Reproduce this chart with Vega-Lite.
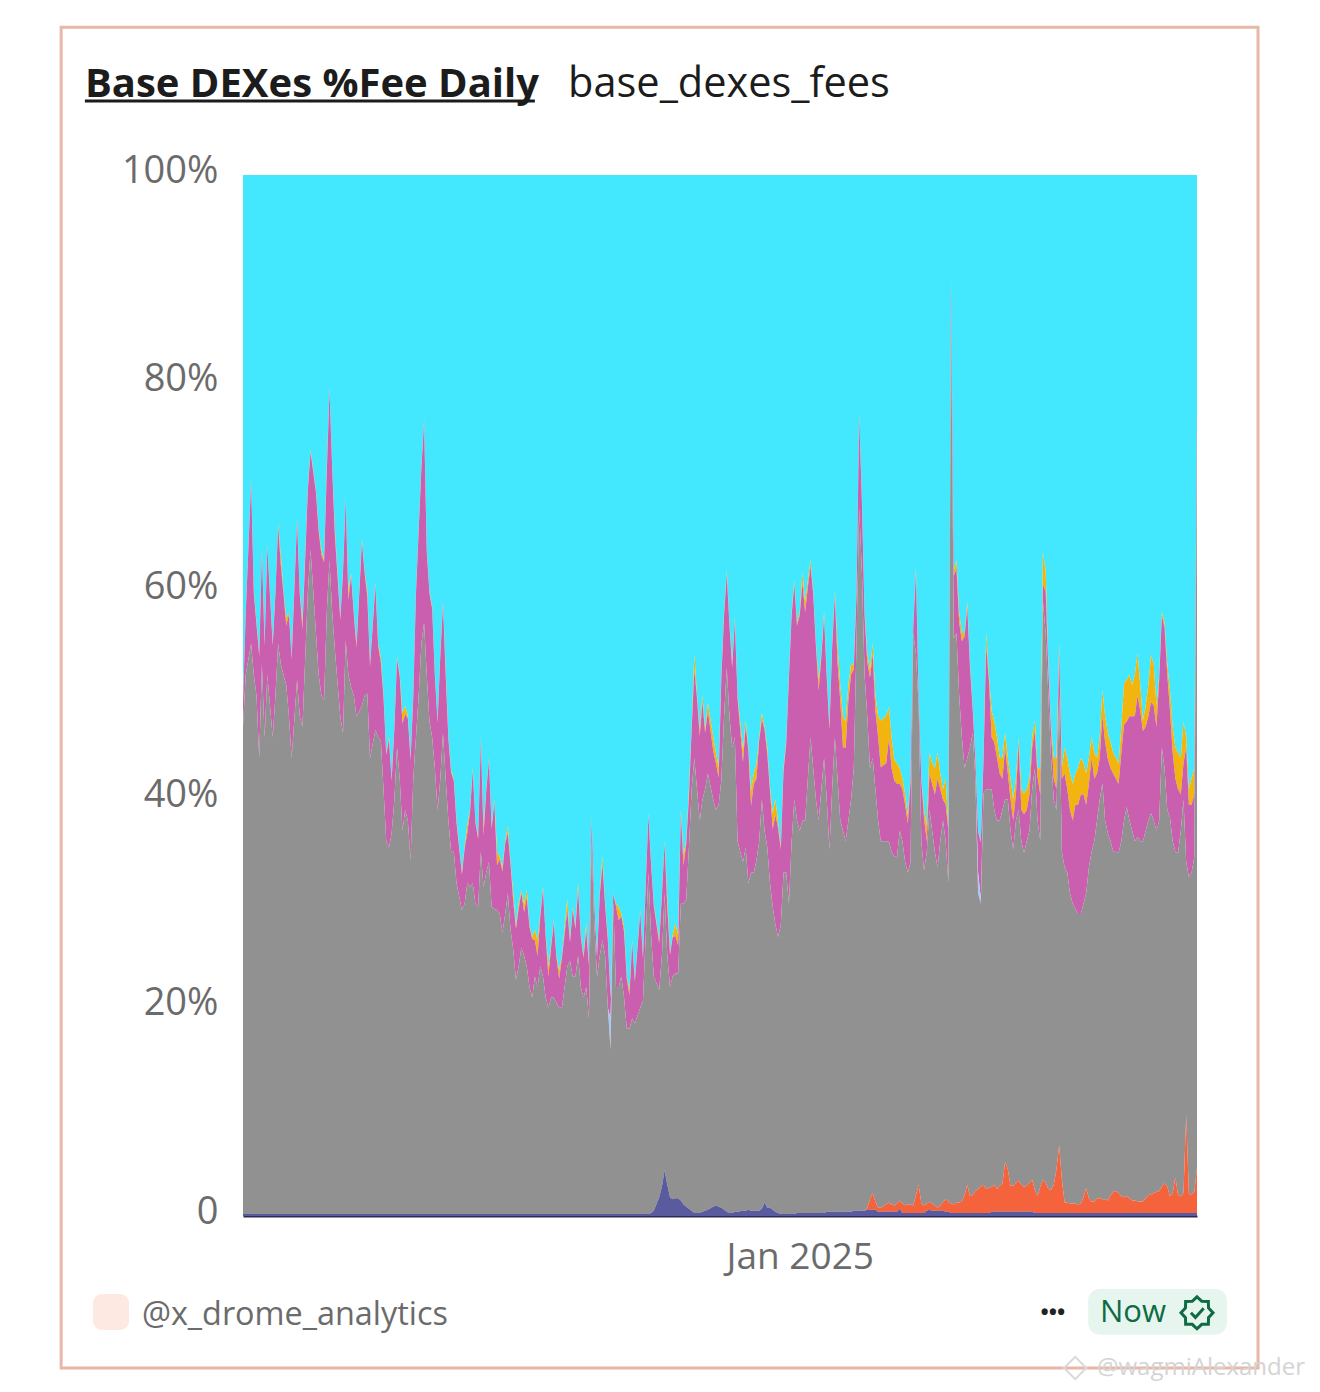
{
"$schema":"https://vega.github.io/schema/vega-lite/v6.json",
"width":954,"height":1041,"autosize":{"type":"none"},
"padding":{"left":243,"top":175,"right":123,"bottom":176},
"background":"white",
"config":{"view":{"stroke":null},"font":"Open Sans"},
"layer":[
{"data":{"values":[{"note":"frame"}]},
 "mark":{"type":"rect","fill":"transparent","stroke":"#e8b7a8","strokeWidth":3},
 "encoding":{"x":{"datum":{"year":2024,"month":4,"date":2,"hours":17},"type":"temporal"},"x2":{"datum":{"year":2025,"month":6,"date":19,"hours":14}},"y":{"datum":114.2,"type":"quantitative"},"y2":{"datum":-14.6}}},
{"data":{"values":[
{"d":"2024-06-09","s1":50.4,"s2":0.2,"s3":2.4,"s4":0,"s5":46.8,"s6":0,"s7":0.2},
{"d":"2024-06-10","s1":42,"s2":0.2,"s3":5.8,"s4":0,"s5":51.8,"s6":0,"s7":0.2},
{"d":"2024-06-12","s1":29.3,"s2":0.2,"s3":15.5,"s4":0,"s5":54.8,"s6":0,"s7":0.2},
{"d":"2024-06-13","s1":40,"s2":0.2,"s3":7.8,"s4":0,"s5":51.8,"s6":0,"s7":0.2},
{"d":"2024-06-14","s1":43,"s2":0.2,"s3":6.8,"s4":0,"s5":49.8,"s6":0,"s7":0.2},
{"d":"2024-06-15","s1":46,"s2":0.2,"s3":9.8,"s4":0,"s5":43.8,"s6":0,"s7":0.2},
{"d":"2024-06-16","s1":36,"s2":0.2,"s3":10.8,"s4":0,"s5":52.8,"s6":0,"s7":0.2},
{"d":"2024-06-17","s1":45,"s2":0.2,"s3":8.8,"s4":0,"s5":45.8,"s6":0,"s7":0.2},
{"d":"2024-06-18","s1":35.5,"s2":0.2,"s3":12.3,"s4":0,"s5":51.8,"s6":0,"s7":0.2},
{"d":"2024-06-20","s1":45,"s2":0.2,"s3":8.8,"s4":0,"s5":45.8,"s6":0,"s7":0.2},
{"d":"2024-06-21","s1":40,"s2":0.2,"s3":9.8,"s4":0,"s5":49.8,"s6":0,"s7":0.2},
{"d":"2024-06-22","s1":33.5,"s2":0.2,"s3":11.3,"s4":0,"s5":54.8,"s6":0,"s7":0.2},
{"d":"2024-06-23","s1":36.5,"s2":1,"s3":9.5,"s4":0,"s5":52.8,"s6":0,"s7":0.2},
{"d":"2024-06-24","s1":40,"s2":0.2,"s3":7.8,"s4":0,"s5":51.8,"s6":0,"s7":0.2},
{"d":"2024-06-25","s1":42.5,"s2":0.8,"s3":5.7,"s4":0,"s5":50.8,"s6":0,"s7":0.2},
{"d":"2024-06-26","s1":42,"s2":0.2,"s3":9.8,"s4":0,"s5":47.8,"s6":0,"s7":0.2},
{"d":"2024-06-27","s1":46.3,"s2":0.2,"s3":9.5,"s4":0,"s5":43.8,"s6":0,"s7":0.2},
{"d":"2024-06-29","s1":33,"s2":0.2,"s3":15.3,"s4":0,"s5":51.3,"s6":0,"s7":0.2},
{"d":"2024-06-30","s1":40,"s2":0.2,"s3":11.8,"s4":0,"s5":47.8,"s6":0,"s7":0.2},
{"d":"2024-07-01","s1":43,"s2":0.6,"s3":9.4,"s4":0,"s5":46.8,"s6":0,"s7":0.2},
{"d":"2024-07-03","s1":30,"s2":0.2,"s3":9.8,"s4":0,"s5":59.8,"s6":0,"s7":0.2},
{"d":"2024-07-04","s1":26.4,"s2":0.2,"s3":9.4,"s4":0,"s5":63.8,"s6":0,"s7":0.2},
{"d":"2024-07-06","s1":30.3,"s2":0.2,"s3":13.5,"s4":0,"s5":55.8,"s6":0,"s7":0.2},
{"d":"2024-07-07","s1":34,"s2":0.2,"s3":13.8,"s4":0,"s5":51.8,"s6":0,"s7":0.2},
{"d":"2024-07-08","s1":36,"s2":0.5,"s3":13.5,"s4":0,"s5":49.8,"s6":0,"s7":0.2},
{"d":"2024-07-09","s1":37,"s2":0.2,"s3":13.2,"s4":0,"s5":49.4,"s6":0,"s7":0.2},
{"d":"2024-07-10","s1":28,"s2":0.5,"s3":13.5,"s4":0,"s5":57.8,"s6":0,"s7":0.2},
{"d":"2024-07-11","s1":20.5,"s2":0.2,"s3":16.3,"s4":0,"s5":62.8,"s6":0,"s7":0.2},
{"d":"2024-07-12","s1":28,"s2":0.2,"s3":13.8,"s4":0,"s5":57.8,"s6":0,"s7":0.2},
{"d":"2024-07-13","s1":34,"s2":0.6,"s3":11,"s4":0,"s5":54.2,"s6":0,"s7":0.2},
{"d":"2024-07-15","s1":42.5,"s2":0.2,"s3":9.3,"s4":0,"s5":47.8,"s6":0,"s7":0.2},
{"d":"2024-07-16","s1":38,"s2":0.2,"s3":15.4,"s4":0,"s5":46.2,"s6":0,"s7":0.2},
{"d":"2024-07-17","s1":31,"s2":0.2,"s3":13.5,"s4":0,"s5":55.1,"s6":0,"s7":0.2},
{"d":"2024-07-18","s1":40,"s2":0.8,"s3":7.2,"s4":0,"s5":51.8,"s6":0,"s7":0.2},
{"d":"2024-07-19","s1":38.3,"s2":0.2,"s3":10.7,"s4":0,"s5":50.6,"s6":0,"s7":0.2},
{"d":"2024-07-20","s1":42,"s2":0.2,"s3":7.8,"s4":0,"s5":49.8,"s6":0,"s7":0.2},
{"d":"2024-07-21","s1":45,"s2":0.4,"s3":6.6,"s4":0,"s5":47.8,"s6":0,"s7":0.2},
{"d":"2024-07-23","s1":35,"s2":0.2,"s3":15.8,"s4":0,"s5":48.8,"s6":0,"s7":0.2},
{"d":"2024-07-24","s1":38,"s2":0.2,"s3":11.8,"s4":0,"s5":49.8,"s6":0,"s7":0.2},
{"d":"2024-07-25","s1":40,"s2":0.5,"s3":9.3,"s4":0,"s5":50,"s6":0,"s7":0.2},
{"d":"2024-07-26","s1":47,"s2":0.2,"s3":8.8,"s4":0,"s5":43.8,"s6":0,"s7":0.2},
{"d":"2024-07-28","s1":39.2,"s2":0.2,"s3":13.9,"s4":0,"s5":46.5,"s6":0,"s7":0.2},
{"d":"2024-07-29","s1":45,"s2":0.2,"s3":8.8,"s4":0,"s5":45.8,"s6":0,"s7":0.2},
{"d":"2024-07-30","s1":46.3,"s2":0.5,"s3":7.5,"s4":0,"s5":45.5,"s6":0,"s7":0.2},
{"d":"2024-07-31","s1":50,"s2":0.2,"s3":8.8,"s4":0,"s5":40.8,"s6":0,"s7":0.2},
{"d":"2024-08-01","s1":55.5,"s2":0.2,"s3":8.3,"s4":0,"s5":35.8,"s6":0,"s7":0.2},
{"d":"2024-08-02","s1":54,"s2":0.2,"s3":10.4,"s4":0,"s5":35.2,"s6":0,"s7":0.2},
{"d":"2024-08-03","s1":58,"s2":0.2,"s3":5,"s4":0,"s5":36.6,"s6":0,"s7":0.2},
{"d":"2024-08-04","s1":53,"s2":0.2,"s3":6.8,"s4":0,"s5":39.8,"s6":0,"s7":0.2},
{"d":"2024-08-05","s1":46.3,"s2":0.2,"s3":8.5,"s4":0,"s5":44.8,"s6":0,"s7":0.2},
{"d":"2024-08-06","s1":48,"s2":0.2,"s3":9.8,"s4":0,"s5":41.8,"s6":0,"s7":0.2},
{"d":"2024-08-07","s1":51.7,"s2":1,"s3":10.3,"s4":0,"s5":36.8,"s6":0,"s7":0.2},
{"d":"2024-08-08","s1":51,"s2":0.8,"s3":9.2,"s4":0,"s5":38.8,"s6":0,"s7":0.2},
{"d":"2024-08-09","s1":52,"s2":0.2,"s3":9.8,"s4":0,"s5":37.8,"s6":0,"s7":0.2},
{"d":"2024-08-10","s1":56,"s2":0.2,"s3":9.6,"s4":0,"s5":34,"s6":0,"s7":0.2},
{"d":"2024-08-11","s1":50,"s2":0.2,"s3":7.8,"s4":0,"s5":41.8,"s6":0,"s7":0.2},
{"d":"2024-08-12","s1":40,"s2":0.2,"s3":13.8,"s4":0,"s5":45.8,"s6":0,"s7":0.2},
{"d":"2024-08-13","s1":34,"s2":0.2,"s3":15.8,"s4":0,"s5":49.8,"s6":0,"s7":0.2},
{"d":"2024-08-14","s1":28,"s2":0.2,"s3":16.8,"s4":0,"s5":54.8,"s6":0,"s7":0.2},
{"d":"2024-08-15","s1":23.5,"s2":0.2,"s3":19.3,"s4":0,"s5":56.8,"s6":0,"s7":0.2},
{"d":"2024-08-16","s1":36,"s2":0.2,"s3":11.8,"s4":0,"s5":51.8,"s6":0,"s7":0.2},
{"d":"2024-08-17","s1":40,"s2":0.2,"s3":12.3,"s4":0,"s5":47.3,"s6":0,"s7":0.2},
{"d":"2024-08-18","s1":41.5,"s2":0.2,"s3":12.3,"s4":0,"s5":45.8,"s6":0,"s7":0.2},
{"d":"2024-08-19","s1":48,"s2":0.2,"s3":8.8,"s4":0,"s5":42.8,"s6":0,"s7":0.2},
{"d":"2024-08-20","s1":52.4,"s2":0.2,"s3":8.4,"s4":0,"s5":38.8,"s6":0,"s7":0.2},
{"d":"2024-08-21","s1":46,"s2":0.2,"s3":11.8,"s4":0,"s5":41.8,"s6":0,"s7":0.2},
{"d":"2024-08-22","s1":41,"s2":0.2,"s3":12.4,"s4":0,"s5":46.2,"s6":0,"s7":0.2},
{"d":"2024-08-23","s1":47.5,"s2":0.5,"s3":10,"s4":0,"s5":41.8,"s6":0,"s7":0.2},
{"d":"2024-08-24","s1":54,"s2":0.2,"s3":7.8,"s4":0,"s5":37.8,"s6":0,"s7":0.2},
{"d":"2024-08-25","s1":57.2,"s2":0.2,"s3":7.6,"s4":0,"s5":34.8,"s6":0,"s7":0.2},
{"d":"2024-08-26","s1":58,"s2":0.2,"s3":6.8,"s4":0,"s5":34.8,"s6":0,"s7":0.2},
{"d":"2024-08-27","s1":62,"s2":0.2,"s3":5.8,"s4":0,"s5":31.8,"s6":0,"s7":0.2},
{"d":"2024-08-29","s1":67,"s2":0.2,"s3":3.4,"s4":0,"s5":29.2,"s6":0,"s7":0.2},
{"d":"2024-08-30","s1":64.5,"s2":0.2,"s3":5.3,"s4":0,"s5":29.8,"s6":0,"s7":0.2},
{"d":"2024-08-31","s1":62.4,"s2":0.8,"s3":4.8,"s4":0,"s5":31.8,"s6":0,"s7":0.2},
{"d":"2024-09-01","s1":61,"s2":0.2,"s3":7.2,"s4":0,"s5":31.4,"s6":0,"s7":0.2},
{"d":"2024-09-02","s1":57,"s2":0.2,"s3":10.8,"s4":0,"s5":31.8,"s6":0,"s7":0.2},
{"d":"2024-09-03","s1":62,"s2":0.2,"s3":7.8,"s4":0,"s5":29.8,"s6":0,"s7":0.2},
{"d":"2024-09-04","s1":63.6,"s2":0.2,"s3":6.5,"s4":0,"s5":29.5,"s6":0,"s7":0.2},
{"d":"2024-09-05","s1":54,"s2":0.2,"s3":10.8,"s4":0,"s5":34.8,"s6":0,"s7":0.2},
{"d":"2024-09-06","s1":62.6,"s2":0.8,"s3":5,"s4":0,"s5":31.4,"s6":0,"s7":0.2},
{"d":"2024-09-07","s1":59,"s2":0.2,"s3":7.8,"s4":0,"s5":32.8,"s6":0,"s7":0.2},
{"d":"2024-09-08","s1":56,"s2":0.2,"s3":9.8,"s4":0,"s5":33.8,"s6":0,"s7":0.2},
{"d":"2024-09-09","s1":62.6,"s2":0.2,"s3":7.5,"s4":0,"s5":29.5,"s6":0,"s7":0.2},
{"d":"2024-09-10","s1":60,"s2":0.2,"s3":10.3,"s4":0,"s5":29.3,"s6":0,"s7":0.2},
{"d":"2024-09-11","s1":65,"s2":1.3,"s3":4.3,"s4":0,"s5":29.2,"s6":0,"s7":0.2},
{"d":"2024-09-12","s1":65.5,"s2":0.2,"s3":5.3,"s4":0,"s5":28.8,"s6":0,"s7":0.2},
{"d":"2024-09-13","s1":66.5,"s2":0.4,"s3":5.9,"s4":0,"s5":27,"s6":0,"s7":0.2},
{"d":"2024-09-14","s1":64,"s2":0.2,"s3":6.8,"s4":0,"s5":28.8,"s6":0,"s7":0.2},
{"d":"2024-09-15","s1":62.6,"s2":0.6,"s3":5.8,"s4":0,"s5":30.8,"s6":0,"s7":0.2},
{"d":"2024-09-16","s1":66,"s2":0.2,"s3":6.3,"s4":0,"s5":27.3,"s6":0,"s7":0.2},
{"d":"2024-09-17","s1":69,"s2":0.8,"s3":4.6,"s4":0,"s5":25.4,"s6":0,"s7":0.2},
{"d":"2024-09-18","s1":72.2,"s2":0.2,"s3":4.9,"s4":0,"s5":22.5,"s6":0,"s7":0.2},
{"d":"2024-09-19","s1":70,"s2":0.5,"s3":5.5,"s4":0,"s5":23.8,"s6":0,"s7":0.2},
{"d":"2024-09-20","s1":68.7,"s2":0.2,"s3":5.3,"s4":0,"s5":25.6,"s6":0,"s7":0.2},
{"d":"2024-09-21","s1":70,"s2":0.8,"s3":4.2,"s4":0,"s5":24.8,"s6":0,"s7":0.2},
{"d":"2024-09-22","s1":68.7,"s2":0.7,"s3":6.6,"s4":0,"s5":23.8,"s6":0,"s7":0.2},
{"d":"2024-09-23","s1":72,"s2":0.2,"s3":5.8,"s4":0,"s5":21.8,"s6":0,"s7":0.2},
{"d":"2024-09-24","s1":73.2,"s2":0.2,"s3":5.6,"s4":0,"s5":20.8,"s6":0,"s7":0.2},
{"d":"2024-09-25","s1":72.5,"s2":1,"s3":3.5,"s4":0,"s5":22.8,"s6":0,"s7":0.2},
{"d":"2024-09-26","s1":73.5,"s2":1.5,"s3":3,"s4":0,"s5":21.8,"s6":0,"s7":0.2},
{"d":"2024-09-27","s1":71,"s2":0.2,"s3":4.8,"s4":0,"s5":23.8,"s6":0,"s7":0.2},
{"d":"2024-09-28","s1":68.4,"s2":0.2,"s3":8.4,"s4":0,"s5":22.8,"s6":0,"s7":0.2},
{"d":"2024-09-29","s1":73,"s2":0.2,"s3":5.8,"s4":0,"s5":20.8,"s6":0,"s7":0.2},
{"d":"2024-09-30","s1":76,"s2":1,"s3":3,"s4":0,"s5":19.8,"s6":0,"s7":0.2},
{"d":"2024-10-01","s1":74,"s2":0.2,"s3":4.8,"s4":0,"s5":20.8,"s6":0,"s7":0.2},
{"d":"2024-10-02","s1":71.6,"s2":0.2,"s3":7.2,"s4":0,"s5":20.8,"s6":0,"s7":0.2},
{"d":"2024-10-03","s1":75,"s2":0.2,"s3":4.3,"s4":0,"s5":20.3,"s6":0,"s7":0.2},
{"d":"2024-10-04","s1":76.4,"s2":0.8,"s3":2.8,"s4":0,"s5":19.8,"s6":0,"s7":0.2},
{"d":"2024-10-05","s1":75,"s2":0.2,"s3":4.8,"s4":0,"s5":19.8,"s6":0,"s7":0.2},
{"d":"2024-10-07","s1":69.6,"s2":1,"s3":5.4,"s4":0,"s5":23.8,"s6":0,"s7":0.2},
{"d":"2024-10-08","s1":73.5,"s2":0.2,"s3":1.8,"s4":0,"s5":24.3,"s6":0,"s7":0.2},
{"d":"2024-10-09","s1":70.3,"s2":0.2,"s3":6.5,"s4":0,"s5":22.8,"s6":0,"s7":0.2},
{"d":"2024-10-10","s1":72.2,"s2":0.2,"s3":4.6,"s4":0,"s5":22.8,"s6":0,"s7":0.2},
{"d":"2024-10-11","s1":68,"s2":0.6,"s3":6.4,"s4":0,"s5":24.8,"s6":0,"s7":0.2},
{"d":"2024-10-12","s1":73,"s2":0.2,"s3":4.8,"s4":0,"s5":21.8,"s6":0,"s7":0.2},
{"d":"2024-10-13","s1":75,"s2":0.2,"s3":3.8,"s4":0,"s5":20.8,"s6":0,"s7":0.2},
{"d":"2024-10-14","s1":71.9,"s2":0.6,"s3":5.5,"s4":0,"s5":21.8,"s6":0,"s7":0.2},
{"d":"2024-10-15","s1":75.7,"s2":0.2,"s3":5.1,"s4":0,"s5":18.8,"s6":0,"s7":0.2},
{"d":"2024-10-16","s1":61.7,"s2":0.2,"s3":2.1,"s4":0,"s5":35.8,"s6":0,"s7":0.2},
{"d":"2024-10-17","s1":70,"s2":0.2,"s3":1.8,"s4":0,"s5":27.8,"s6":0,"s7":0.2},
{"d":"2024-10-18","s1":75,"s2":0.2,"s3":1.8,"s4":0,"s5":22.8,"s6":0,"s7":0.2},
{"d":"2024-10-19","s1":69,"s2":0.2,"s3":5.8,"s4":0,"s5":24.8,"s6":0,"s7":0.2},
{"d":"2024-10-20","s1":65.5,"s2":0.7,"s3":7.3,"s4":0,"s5":26.3,"s6":0,"s7":0.2},
{"d":"2024-10-21","s1":70,"s2":0.2,"s3":4.8,"s4":0,"s5":24.8,"s6":0,"s7":0.2},
{"d":"2024-10-22","s1":73.2,"s2":0.3,"s3":6.5,"s4":0,"s5":19.8,"s6":0,"s7":0.2},
{"d":"2024-10-23","s1":79,"s2":0.1,"s3":1.9,"s4":3,"s5":15.8,"s6":0,"s7":0.2},
{"d":"2024-10-24","s1":69,"s2":0.1,"s3":0.6,"s4":0,"s5":30.1,"s6":0,"s7":0.2},
{"d":"2024-10-25","s1":70,"s2":0.2,"s3":7.8,"s4":0,"s5":21.8,"s6":0,"s7":0.2},
{"d":"2024-10-26","s1":70.3,"s2":1.3,"s3":6.4,"s4":0,"s5":21.8,"s6":0,"s7":0.2},
{"d":"2024-10-27","s1":71,"s2":0.2,"s3":5.8,"s4":0,"s5":22.8,"s6":0,"s7":0.2},
{"d":"2024-10-28","s1":72.2,"s2":0.5,"s3":6.3,"s4":0,"s5":20.8,"s6":0,"s7":0.2},
{"d":"2024-10-29","s1":77,"s2":0.2,"s3":4.8,"s4":0,"s5":17.8,"s6":0,"s7":0.2},
{"d":"2024-10-30","s1":78.3,"s2":0.5,"s3":3.2,"s4":0,"s5":17.8,"s6":0,"s7":0.2},
{"d":"2024-10-31","s1":73.5,"s2":0.2,"s3":7.3,"s4":0,"s5":18.8,"s6":0,"s7":0.2},
{"d":"2024-11-01","s1":77.3,"s2":0.2,"s3":4,"s4":0,"s5":18.3,"s6":0,"s7":0.2},
{"d":"2024-11-03","s1":70.6,"s2":0.2,"s3":9.2,"s4":0,"s5":19.8,"s6":0,"s7":0.2},
{"d":"2024-11-04","s1":75.1,"s2":0.2,"s3":4,"s4":0,"s5":20.5,"s6":0,"s7":0.2},
{"d":"2024-11-06","s1":61.3,"s2":0.2,"s3":5.5,"s4":0,"s5":32.8,"s6":0,"s7":0.2},
{"d":"2024-11-07","s1":66,"s2":0.2,"s3":6.8,"s4":0,"s5":26.7,"s6":0,"s7":0.3},
{"d":"2024-11-08","s1":70,"s2":0.2,"s3":6.8,"s4":0,"s5":22.5,"s6":0,"s7":0.5},
{"d":"2024-11-10","s1":73.5,"s2":0.3,"s3":4.5,"s4":0,"s5":19.9,"s6":0,"s7":1.8},
{"d":"2024-11-11","s1":69,"s2":0.2,"s3":5.8,"s4":0,"s5":22.2,"s6":0,"s7":2.8},
{"d":"2024-11-12","s1":64,"s2":0.2,"s3":4.8,"s4":0,"s5":26.6,"s6":0,"s7":4.4},
{"d":"2024-11-13","s1":69.4,"s2":1,"s3":4.6,"s4":0,"s5":22,"s6":0,"s7":3},
{"d":"2024-11-14","s1":74.7,"s2":0.2,"s3":3.1,"s4":0,"s5":20.2,"s6":0,"s7":1.8},
{"d":"2024-11-15","s1":73,"s2":0.2,"s3":3.8,"s4":0,"s5":21.4,"s6":0,"s7":1.6},
{"d":"2024-11-16","s1":71.9,"s2":1.2,"s3":3.6,"s4":0,"s5":21.6,"s6":0,"s7":1.7},
{"d":"2024-11-17","s1":73,"s2":1,"s3":2.7,"s4":0,"s5":21.6,"s6":0,"s7":1.7},
{"d":"2024-11-18","s1":61,"s2":0.3,"s3":8.7,"s4":0,"s5":28.5,"s6":0,"s7":1.5},
{"d":"2024-11-19","s1":65.3,"s2":1,"s3":3.7,"s4":0,"s5":28.9,"s6":0,"s7":1.1},
{"d":"2024-11-20","s1":64,"s2":0.3,"s3":5.3,"s4":0,"s5":29.5,"s6":0,"s7":0.9},
{"d":"2024-11-21","s1":59,"s2":0.8,"s3":4.8,"s4":0,"s5":34.7,"s6":0,"s7":0.7},
{"d":"2024-11-22","s1":53,"s2":0.3,"s3":5.7,"s4":0,"s5":40.5,"s6":0,"s7":0.5},
{"d":"2024-11-23","s1":46,"s2":1.5,"s3":8.5,"s4":0,"s5":43.7,"s6":0,"s7":0.3},
{"d":"2024-11-24","s1":50,"s2":0.3,"s3":8.7,"s4":0,"s5":40.7,"s6":0,"s7":0.3},
{"d":"2024-11-25","s1":53.3,"s2":0.6,"s3":8.1,"s4":0,"s5":37.7,"s6":0,"s7":0.3},
{"d":"2024-11-26","s1":50,"s2":0.6,"s3":9.4,"s4":0,"s5":39.6,"s6":0,"s7":0.4},
{"d":"2024-11-27","s1":53.3,"s2":0.3,"s3":5.4,"s4":0,"s5":40.5,"s6":0,"s7":0.5},
{"d":"2024-11-28","s1":50.7,"s2":0.8,"s3":6,"s4":0,"s5":41.9,"s6":0,"s7":0.6},
{"d":"2024-11-30","s1":54,"s2":1.3,"s3":4.7,"s4":0,"s5":39.1,"s6":0,"s7":0.9},
{"d":"2024-12-01","s1":55.5,"s2":1,"s3":4.5,"s4":0,"s5":38,"s6":0,"s7":1},
{"d":"2024-12-02","s1":56.9,"s2":1,"s3":2.6,"s4":0,"s5":38.6,"s6":0,"s7":0.9},
{"d":"2024-12-03","s1":48,"s2":0.3,"s3":9.8,"s4":0,"s5":41.1,"s6":0,"s7":0.8},
{"d":"2024-12-04","s1":42,"s2":0.3,"s3":9.7,"s4":0,"s5":47.4,"s6":0,"s7":0.6},
{"d":"2024-12-05","s1":38,"s2":0.3,"s3":9,"s4":0,"s5":52.3,"s6":0,"s7":0.4},
{"d":"2024-12-06","s1":43,"s2":0.3,"s3":8.7,"s4":0,"s5":47.7,"s6":0,"s7":0.3},
{"d":"2024-12-07","s1":47,"s2":0.3,"s3":7.7,"s4":0,"s5":44.7,"s6":0,"s7":0.3},
{"d":"2024-12-08","s1":42.5,"s2":0.3,"s3":11.2,"s4":0,"s5":45.6,"s6":0,"s7":0.4},
{"d":"2024-12-09","s1":50,"s2":0.3,"s3":13.7,"s4":0,"s5":35.6,"s6":0,"s7":0.4},
{"d":"2024-12-11","s1":55.2,"s2":1.2,"s3":9.6,"s4":0,"s5":33.5,"s6":0,"s7":0.5},
{"d":"2024-12-12","s1":52.4,"s2":0.5,"s3":11.7,"s4":0,"s5":34.9,"s6":0,"s7":0.5},
{"d":"2024-12-13","s1":55,"s2":0.3,"s3":12.7,"s4":0,"s5":31.4,"s6":0,"s7":0.6},
{"d":"2024-12-14","s1":59.1,"s2":1.5,"s3":6.4,"s4":0,"s5":32.5,"s6":0,"s7":0.5},
{"d":"2024-12-15","s1":57.5,"s2":1,"s3":8.5,"s4":0,"s5":32.5,"s6":0,"s7":0.5},
{"d":"2024-12-16","s1":56.5,"s2":1.5,"s3":7.8,"s4":0,"s5":33.7,"s6":0,"s7":0.5},
{"d":"2024-12-17","s1":54,"s2":0.3,"s3":9.7,"s4":0,"s5":35.5,"s6":0,"s7":0.5},
{"d":"2024-12-18","s1":51.7,"s2":0.6,"s3":7.7,"s4":0,"s5":39.3,"s6":0,"s7":0.7},
{"d":"2024-12-19","s1":53,"s2":0.3,"s3":9.7,"s4":0,"s5":35.7,"s6":0,"s7":1.3},
{"d":"2024-12-20","s1":55,"s2":0.6,"s3":9,"s4":0,"s5":34.6,"s6":0,"s7":0.8},
{"d":"2024-12-21","s1":58.8,"s2":0.4,"s3":8.8,"s4":0,"s5":31.2,"s6":0,"s7":0.8},
{"d":"2024-12-22","s1":61.3,"s2":1.5,"s3":7.5,"s4":0,"s5":29.1,"s6":0,"s7":0.6},
{"d":"2024-12-23","s1":60,"s2":1.5,"s3":10.5,"s4":0,"s5":27.6,"s6":0,"s7":0.4},
{"d":"2024-12-24","s1":62.2,"s2":0.5,"s3":10.5,"s4":0,"s5":26.5,"s6":0,"s7":0.3},
{"d":"2024-12-25","s1":64.5,"s2":0.3,"s3":7.2,"s4":0,"s5":27.8,"s6":0,"s7":0.2},
{"d":"2024-12-26","s1":57,"s2":0.3,"s3":9.7,"s4":0,"s5":32.8,"s6":0,"s7":0.2},
{"d":"2024-12-27","s1":54.3,"s2":0.3,"s3":12.4,"s4":0,"s5":32.8,"s6":0,"s7":0.2},
{"d":"2024-12-28","s1":48,"s2":0.3,"s3":21.7,"s4":0,"s5":29.8,"s6":0,"s7":0.2},
{"d":"2024-12-29","s1":42,"s2":0.3,"s3":21.7,"s4":0,"s5":35.8,"s6":0,"s7":0.2},
{"d":"2024-12-30","s1":39,"s2":0.3,"s3":20.7,"s4":0,"s5":39.8,"s6":0,"s7":0.2},
{"d":"2024-12-31","s1":43,"s2":0.3,"s3":18.7,"s4":0,"s5":37.7,"s6":0,"s7":0.3},
{"d":"2025-01-01","s1":42,"s2":0.3,"s3":20.7,"s4":0,"s5":36.7,"s6":0,"s7":0.3},
{"d":"2025-01-02","s1":38.2,"s2":1,"s3":22.8,"s4":0,"s5":37.7,"s6":0,"s7":0.3},
{"d":"2025-01-03","s1":41,"s2":1,"s3":20,"s4":0,"s5":37.7,"s6":0,"s7":0.3},
{"d":"2025-01-04","s1":39,"s2":0.6,"s3":18.4,"s4":0,"s5":41.7,"s6":0,"s7":0.3},
{"d":"2025-01-05","s1":37,"s2":0.5,"s3":16.5,"s4":0,"s5":45.7,"s6":0,"s7":0.3},
{"d":"2025-01-06","s1":40,"s2":0.3,"s3":16.7,"s4":0,"s5":42.7,"s6":0,"s7":0.3},
{"d":"2025-01-07","s1":45,"s2":0.3,"s3":14.7,"s4":0,"s5":39.7,"s6":0,"s7":0.3},
{"d":"2025-01-08","s1":48.5,"s2":1,"s3":12.5,"s4":0,"s5":37.7,"s6":0,"s7":0.3},
{"d":"2025-01-09","s1":46,"s2":0.3,"s3":12.7,"s4":0,"s5":40.7,"s6":0,"s7":0.3},
{"d":"2025-01-10","s1":42,"s2":0.4,"s3":13.6,"s4":0,"s5":43.7,"s6":0,"s7":0.3},
{"d":"2025-01-11","s1":48,"s2":0.3,"s3":11.7,"s4":0,"s5":39.6,"s6":0,"s7":0.4},
{"d":"2025-01-12","s1":53,"s2":0.3,"s3":11.5,"s4":0,"s5":34.8,"s6":0,"s7":0.4},
{"d":"2025-01-13","s1":45,"s2":0.3,"s3":13.7,"s4":0,"s5":40.6,"s6":0,"s7":0.4},
{"d":"2025-01-14","s1":40,"s2":0.3,"s3":13.7,"s4":0,"s5":45.6,"s6":0,"s7":0.4},
{"d":"2025-01-15","s1":45.3,"s2":1.6,"s3":11.1,"s4":0,"s5":41.6,"s6":0,"s7":0.4},
{"d":"2025-01-16","s1":49,"s2":1.5,"s3":11.5,"s4":0,"s5":37.6,"s6":0,"s7":0.4},
{"d":"2025-01-17","s1":52,"s2":3,"s3":8,"s4":0,"s5":36.6,"s6":0,"s7":0.4},
{"d":"2025-01-18","s1":52.5,"s2":2.5,"s3":9,"s4":0,"s5":35.6,"s6":0,"s7":0.4},
{"d":"2025-01-19","s1":49,"s2":1.5,"s3":11.5,"s4":0,"s5":37.6,"s6":0,"s7":0.4},
{"d":"2025-01-20","s1":47,"s2":1,"s3":12,"s4":0,"s5":39.6,"s6":0,"s7":0.4},
{"d":"2025-01-21","s1":47,"s2":0.5,"s3":9.5,"s4":0,"s5":42.5,"s6":0,"s7":0.5},
{"d":"2025-01-22","s1":40,"s2":0.3,"s3":4.7,"s4":0,"s5":54.5,"s6":0,"s7":0.5},
{"d":"2025-01-23","s1":23,"s2":0.3,"s3":8.7,"s4":0,"s5":67.5,"s6":0,"s7":0.5},
{"d":"2025-01-24","s1":31,"s2":0.3,"s3":6.7,"s4":0,"s5":61.5,"s6":0,"s7":0.5},
{"d":"2025-01-25","s1":42,"s2":0.3,"s3":5.7,"s4":0,"s5":51.5,"s6":0,"s7":0.5},
{"d":"2025-01-26","s1":46,"s2":0.8,"s3":5.2,"s4":0,"s5":47.2,"s6":0.2,"s7":0.6},
{"d":"2025-01-27","s1":47.5,"s2":0.8,"s3":8.7,"s4":0,"s5":41.4,"s6":1,"s7":0.6},
{"d":"2025-01-28","s1":45,"s2":1,"s3":10,"s4":0,"s5":41.8,"s6":1.6,"s7":0.6},
{"d":"2025-01-29","s1":50,"s2":1.5,"s3":7.5,"s4":0,"s5":39.6,"s6":0.8,"s7":0.6},
{"d":"2025-01-30","s1":52,"s2":2,"s3":8,"s4":0,"s5":37.2,"s6":0.4,"s7":0.4},
{"d":"2025-01-31","s1":52.4,"s2":4.5,"s3":7.1,"s4":0,"s5":35.2,"s6":0.4,"s7":0.4},
{"d":"2025-02-02","s1":52,"s2":4.5,"s3":7.5,"s4":0,"s5":34.9,"s6":0.7,"s7":0.4},
{"d":"2025-02-03","s1":51.1,"s2":3,"s3":9.9,"s4":0,"s5":34.7,"s6":0.9,"s7":0.4},
{"d":"2025-02-04","s1":54,"s2":3,"s3":8,"s4":0,"s5":33.9,"s6":0.7,"s7":0.4},
{"d":"2025-02-05","s1":56.2,"s2":2,"s3":7.3,"s4":0,"s5":33.5,"s6":0.6,"s7":0.4},
{"d":"2025-02-06","s1":56.5,"s2":2,"s3":7,"s4":0,"s5":33.3,"s6":0.8,"s7":0.4},
{"d":"2025-02-07","s1":57,"s2":1.5,"s3":4.5,"s4":0,"s5":35.5,"s6":0.8,"s7":0.7},
{"d":"2025-02-08","s1":58,"s2":1,"s3":5,"s4":0,"s5":34.8,"s6":0.9,"s7":0.3},
{"d":"2025-02-09","s1":59.5,"s2":1,"s3":5.5,"s4":0,"s5":33,"s6":0.7,"s7":0.3},
{"d":"2025-02-10","s1":61.5,"s2":0.8,"s3":4.7,"s4":0,"s5":31.9,"s6":0.8,"s7":0.3},
{"d":"2025-02-11","s1":58,"s2":0.3,"s3":7.7,"s4":0,"s5":32.9,"s6":0.8,"s7":0.3},
{"d":"2025-02-12","s1":43.4,"s2":0.1,"s3":0.5,"s4":0,"s5":55,"s6":0.7,"s7":0.3},
{"d":"2025-02-13","s1":37.7,"s2":0.5,"s3":7.8,"s4":0,"s5":52,"s6":1.7,"s7":0.3},
{"d":"2025-02-14","s1":50,"s2":0.1,"s3":0.9,"s4":0,"s5":46,"s6":2.7,"s7":0.3},
{"d":"2025-02-15","s1":58,"s2":0.2,"s3":5.8,"s4":0,"s5":34.8,"s6":0.9,"s7":0.3},
{"d":"2025-02-16","s1":61,"s2":0.8,"s3":5,"s4":0,"s5":32.2,"s6":0.7,"s7":0.3},
{"d":"2025-02-17","s1":62.5,"s2":1.5,"s3":1,"s4":0,"s5":33.8,"s6":0.7,"s7":0.5},
{"d":"2025-02-18","s1":55.5,"s2":2,"s3":3.5,"s4":0,"s5":37.7,"s6":0.7,"s7":0.6},
{"d":"2025-02-19","s1":56.5,"s2":2,"s3":4.5,"s4":0,"s5":35.8,"s6":0.7,"s7":0.5},
{"d":"2025-02-20","s1":57,"s2":2.5,"s3":5.5,"s4":0,"s5":34,"s6":0.5,"s7":0.5},
{"d":"2025-02-21","s1":55.5,"s2":2.5,"s3":8.5,"s4":0,"s5":32.7,"s6":0.3,"s7":0.5},
{"d":"2025-02-22","s1":57.5,"s2":1.5,"s3":5,"s4":0,"s5":35,"s6":0.5,"s7":0.5},
{"d":"2025-02-23","s1":59,"s2":1,"s3":2,"s4":0,"s5":36.7,"s6":0.8,"s7":0.5},
{"d":"2025-02-24","s1":58,"s2":2.5,"s3":3.5,"s4":0,"s5":34.4,"s6":1.2,"s7":0.4},
{"d":"2025-02-25","s1":62.6,"s2":0.3,"s3":5.1,"s4":0,"s5":30.6,"s6":1,"s7":0.4},
{"d":"2025-02-26","s1":10,"s2":0.1,"s3":2.9,"s4":0,"s5":85.8,"s6":0.9,"s7":0.3},
{"d":"2025-02-27","s1":38,"s2":0.5,"s3":6,"s4":0,"s5":54.4,"s6":0.8,"s7":0.3},
{"d":"2025-02-28","s1":37,"s2":0.8,"s3":6.2,"s4":0,"s5":54.7,"s6":1,"s7":0.3},
{"d":"2025-03-01","s1":42,"s2":1,"s3":7,"s4":0,"s5":48.7,"s6":1,"s7":0.3},
{"d":"2025-03-02","s1":44,"s2":0.8,"s3":9.2,"s4":0,"s5":44.6,"s6":1.1,"s7":0.3},
{"d":"2025-03-03","s1":44,"s2":0.3,"s3":12.7,"s4":0,"s5":41,"s6":1.7,"s7":0.3},
{"d":"2025-03-04","s1":41,"s2":0.5,"s3":14.5,"s4":0,"s5":41,"s6":2.7,"s7":0.3},
{"d":"2025-03-05","s1":47,"s2":0.3,"s3":7.7,"s4":0,"s5":43.1,"s6":1.6,"s7":0.3},
{"d":"2025-03-06","s1":51,"s2":0.3,"s3":2.3,"s4":0,"s5":44.4,"s6":1.7,"s7":0.3},
{"d":"2025-03-07","s1":56,"s2":0.2,"s3":1.8,"s4":0,"s5":39.6,"s6":2.1,"s7":0.3},
{"d":"2025-03-08","s1":63,"s2":0.1,"s3":3.9,"s4":2,"s5":28.4,"s6":2.3,"s7":0.3},
{"d":"2025-03-09","s1":64,"s2":0.1,"s3":5.4,"s4":0.5,"s5":27.2,"s6":2.5,"s7":0.3},
{"d":"2025-03-10","s1":56,"s2":0.3,"s3":3.1,"s4":0,"s5":37.6,"s6":2.7,"s7":0.3},
{"d":"2025-03-11","s1":44,"s2":1.2,"s3":13.8,"s4":0,"s5":38.4,"s6":2.3,"s7":0.3},
{"d":"2025-03-12","s1":48,"s2":0.5,"s3":10.5,"s4":0,"s5":38.3,"s6":2.4,"s7":0.3},
{"d":"2025-03-13","s1":51.5,"s2":2.5,"s3":5,"s4":0,"s5":38.2,"s6":2.4,"s7":0.4},
{"d":"2025-03-14","s1":52.5,"s2":2,"s3":6.5,"s4":0,"s5":36,"s6":2.6,"s7":0.4},
{"d":"2025-03-15","s1":54,"s2":2,"s3":6,"s4":0,"s5":35.4,"s6":2.2,"s7":0.4},
{"d":"2025-03-16","s1":56,"s2":1.5,"s3":4.5,"s4":0,"s5":35.1,"s6":2.5,"s7":0.4},
{"d":"2025-03-17","s1":56,"s2":2,"s3":3,"s4":0,"s5":35.9,"s6":2.7,"s7":0.4},
{"d":"2025-03-18","s1":53.6,"s2":1.5,"s3":4.9,"s4":0,"s5":34.8,"s6":4.8,"s7":0.4},
{"d":"2025-03-19","s1":56,"s2":1.5,"s3":2.5,"s4":0,"s5":35.5,"s6":4.1,"s7":0.4},
{"d":"2025-03-20","s1":58,"s2":2,"s3":3,"s4":0,"s5":34.1,"s6":2.5,"s7":0.4},
{"d":"2025-03-21","s1":60,"s2":2,"s3":2.8,"s4":0,"s5":32.3,"s6":2.5,"s7":0.4},
{"d":"2025-03-22","s1":58,"s2":1.5,"s3":2.5,"s4":0,"s5":34.8,"s6":2.8,"s7":0.4},
{"d":"2025-03-23","s1":54,"s2":0.5,"s3":6.5,"s4":0,"s5":35.6,"s6":3,"s7":0.4},
{"d":"2025-03-24","s1":59,"s2":2,"s3":3,"s4":0,"s5":33,"s6":2.6,"s7":0.4},
{"d":"2025-03-25","s1":59.4,"s2":2,"s3":3.7,"s4":0,"s5":32.1,"s6":2.4,"s7":0.4},
{"d":"2025-03-26","s1":59,"s2":2,"s3":3,"s4":0,"s5":33.1,"s6":2.5,"s7":0.4},
{"d":"2025-03-27","s1":58,"s2":1.5,"s3":3.5,"s4":0,"s5":33.8,"s6":2.8,"s7":0.4},
{"d":"2025-03-28","s1":54,"s2":1,"s3":4,"s4":0,"s5":37.5,"s6":3.1,"s7":0.4},
{"d":"2025-03-29","s1":52.4,"s2":1,"s3":3.6,"s4":0,"s5":40.5,"s6":2.2,"s7":0.3},
{"d":"2025-03-30","s1":57,"s2":0.8,"s3":4.2,"s4":0,"s5":36.1,"s6":1.6,"s7":0.3},
{"d":"2025-03-31","s1":57,"s2":2.5,"s3":4.4,"s4":0,"s5":33.3,"s6":2.5,"s7":0.3},
{"d":"2025-04-01","s1":36.3,"s2":3,"s3":1.7,"s4":0,"s5":55.5,"s6":3.2,"s7":0.3},
{"d":"2025-04-02","s1":38,"s2":2,"s3":4,"s4":0,"s5":52.8,"s6":2.9,"s7":0.3},
{"d":"2025-04-03","s1":47,"s2":0.5,"s3":2.5,"s4":0,"s5":47.4,"s6":2.3,"s7":0.3},
{"d":"2025-04-04","s1":53,"s2":0.5,"s3":2.5,"s4":0,"s5":41.5,"s6":2.2,"s7":0.3},
{"d":"2025-04-05","s1":56,"s2":2,"s3":2,"s4":0,"s5":37,"s6":2.7,"s7":0.3},
{"d":"2025-04-06","s1":56,"s2":3,"s3":2,"s4":0,"s5":34.5,"s6":4.2,"s7":0.3},
{"d":"2025-04-07","s1":45,"s2":0.5,"s3":4.5,"s4":0,"s5":43.2,"s6":6.5,"s7":0.3},
{"d":"2025-04-08","s1":57,"s2":1,"s3":7,"s4":0,"s5":31.5,"s6":3.2,"s7":0.3},
{"d":"2025-04-09","s1":55,"s2":2.5,"s3":9,"s4":0,"s5":32.2,"s6":1,"s7":0.3},
{"d":"2025-04-10","s1":56,"s2":3,"s3":8,"s4":0,"s5":31.7,"s6":1,"s7":0.3},
{"d":"2025-04-11","s1":57.5,"s2":3.5,"s3":8,"s4":0,"s5":29.8,"s6":0.9,"s7":0.3},
{"d":"2025-04-12","s1":58.5,"s2":3.5,"s3":8,"s4":0,"s5":28.8,"s6":0.9,"s7":0.3},
{"d":"2025-04-13","s1":57.5,"s2":3,"s3":10,"s4":0,"s5":28.3,"s6":0.9,"s7":0.3},
{"d":"2025-04-14","s1":57,"s2":3.5,"s3":10.5,"s4":0,"s5":27.9,"s6":0.8,"s7":0.3},
{"d":"2025-04-15","s1":56,"s2":3.5,"s3":11.5,"s4":0,"s5":27.8,"s6":0.9,"s7":0.3},
{"d":"2025-04-16","s1":56.5,"s2":3,"s3":10.5,"s4":0,"s5":28.2,"s6":1.5,"s7":0.3},
{"d":"2025-04-17","s1":57.5,"s2":3,"s3":8.5,"s4":0,"s5":28.3,"s6":2.4,"s7":0.3},
{"d":"2025-04-18","s1":56,"s2":2.5,"s3":8,"s4":0,"s5":31.8,"s6":1.4,"s7":0.3},
{"d":"2025-04-19","s1":54,"s2":2,"s3":9,"s4":0,"s5":33.6,"s6":1.1,"s7":0.3},
{"d":"2025-04-20","s1":55.5,"s2":2.5,"s3":6,"s4":0,"s5":34.6,"s6":1.1,"s7":0.3},
{"d":"2025-04-21","s1":56,"s2":1.5,"s3":4.5,"s4":0,"s5":36.3,"s6":1.4,"s7":0.3},
{"d":"2025-04-22","s1":54,"s2":2,"s3":4,"s4":0,"s5":38.3,"s6":1.4,"s7":0.3},
{"d":"2025-04-23","s1":49.5,"s2":2.5,"s3":6.4,"s4":0,"s5":40,"s6":1.3,"s7":0.3},
{"d":"2025-04-24","s1":52,"s2":2.5,"s3":7.5,"s4":0,"s5":36.4,"s6":1.3,"s7":0.3},
{"d":"2025-04-25","s1":53.6,"s2":2.5,"s3":7.1,"s4":0,"s5":35.3,"s6":1.2,"s7":0.3},
{"d":"2025-04-26","s1":54.5,"s2":2.5,"s3":7,"s4":0,"s5":34,"s6":1.7,"s7":0.3},
{"d":"2025-04-27","s1":55.5,"s2":2,"s3":7.5,"s4":0,"s5":32.7,"s6":2,"s7":0.3},
{"d":"2025-04-28","s1":56,"s2":2,"s3":7,"s4":0,"s5":32.6,"s6":2.1,"s7":0.3},
{"d":"2025-04-29","s1":56.5,"s2":2,"s3":6.6,"s4":0,"s5":32.7,"s6":1.9,"s7":0.3},
{"d":"2025-04-30","s1":53,"s2":2.5,"s3":8.5,"s4":0,"s5":34.1,"s6":1.6,"s7":0.3},
{"d":"2025-05-01","s1":48.8,"s2":4,"s3":9.2,"s4":0,"s5":36.2,"s6":1.5,"s7":0.3},
{"d":"2025-05-02","s1":48.5,"s2":4,"s3":8.2,"s4":0,"s5":37.4,"s6":1.6,"s7":0.3},
{"d":"2025-05-03","s1":48,"s2":4,"s3":10,"s4":0,"s5":36.3,"s6":1.4,"s7":0.3},
{"d":"2025-05-04","s1":49,"s2":3,"s3":11,"s4":0,"s5":35.5,"s6":1.2,"s7":0.3},
{"d":"2025-05-05","s1":48,"s2":4,"s3":12,"s4":0,"s5":34.5,"s6":1.2,"s7":0.3},
{"d":"2025-05-06","s1":46,"s2":4,"s3":13.6,"s4":0,"s5":35,"s6":1.1,"s7":0.3},
{"d":"2025-05-07","s1":49,"s2":2.5,"s3":12.5,"s4":0,"s5":34.6,"s6":1.1,"s7":0.3},
{"d":"2025-05-08","s1":52.4,"s2":1,"s3":10.6,"s4":0,"s5":34.6,"s6":1.1,"s7":0.3},
{"d":"2025-05-09","s1":51,"s2":2,"s3":10,"s4":0,"s5":35.3,"s6":1.4,"s7":0.3},
{"d":"2025-05-10","s1":49,"s2":3,"s3":10,"s4":0,"s5":36,"s6":1.7,"s7":0.3},
{"d":"2025-05-11","s1":46.1,"s2":4.5,"s3":10.7,"s4":0,"s5":36.6,"s6":1.8,"s7":0.3},
{"d":"2025-05-12","s1":47,"s2":4,"s3":11,"s4":0,"s5":35.8,"s6":1.9,"s7":0.3},
{"d":"2025-05-13","s1":51,"s2":2,"s3":10,"s4":0,"s5":34.7,"s6":2,"s7":0.3},
{"d":"2025-05-14","s1":48,"s2":0.5,"s3":13.5,"s4":0,"s5":35.6,"s6":2.1,"s7":0.3},
{"d":"2025-05-15","s1":42,"s2":0.3,"s3":12.7,"s4":0,"s5":42.2,"s6":2.5,"s7":0.3},
{"d":"2025-05-16","s1":43,"s2":0.5,"s3":13.5,"s4":0,"s5":39.8,"s6":2.9,"s7":0.3},
{"d":"2025-05-17","s1":47,"s2":1,"s3":13,"s4":0,"s5":36.2,"s6":2.5,"s7":0.3},
{"d":"2025-05-18","s1":49.5,"s2":2,"s3":10.2,"s4":0,"s5":36.4,"s6":1.6,"s7":0.3},
{"d":"2025-05-19","s1":53,"s2":2.5,"s3":8.5,"s4":0,"s5":33.8,"s6":1.9,"s7":0.3},
{"d":"2025-05-20","s1":55,"s2":3,"s3":7,"s4":0,"s5":31.3,"s6":3.4,"s7":0.3},
{"d":"2025-05-21","s1":55.5,"s2":3.5,"s3":6.1,"s4":0,"s5":32.9,"s6":1.7,"s7":0.3},
{"d":"2025-05-22","s1":56,"s2":3.5,"s3":3.5,"s4":0,"s5":35.1,"s6":1.6,"s7":0.3},
{"d":"2025-05-23","s1":52.5,"s2":4,"s3":3.5,"s4":0,"s5":37.8,"s6":1.9,"s7":0.3},
{"d":"2025-05-24","s1":54,"s2":1,"s3":11,"s4":0,"s5":24.3,"s6":9.4,"s7":0.3},
{"d":"2025-05-25","s1":59,"s2":1.5,"s3":6.9,"s4":0,"s5":30.5,"s6":1.8,"s7":0.3},
{"d":"2025-05-26","s1":58,"s2":2.5,"s3":6.5,"s4":0,"s5":30.9,"s6":1.8,"s7":0.3},
{"d":"2025-05-27","s1":57,"s2":2.5,"s3":6,"s4":0,"s5":32.2,"s6":2,"s7":0.3},
{"d":"2025-05-28","s1":22,"s2":0.3,"s3":2.7,"s4":0,"s5":70.4,"s6":4.3,"s7":0.3}
]},
 "transform":[{"fold":["s1","s2","s3","s4","s5","s6","s7"],"as":["dex","fee"]}],
 "mark":{"type":"area","interpolate":"linear"},
 "encoding":{
  "x":{"field":"d","type":"temporal","title":null,
   "scale":{"domain":["2024-06-09","2025-05-28"]},
   "axis":{"values":["2025-01-01"],"format":"%b %Y","grid":false,"ticks":false,"domainColor":"#2a2a58","domainWidth":2,"labelFontSize":37,"labelColor":"#6b6b6b","labelPadding":23,"labelFlush":false}},
  "y":{"field":"fee","type":"quantitative","stack":"zero","title":null,
   "scale":{"domain":[0,100],"nice":false},
   "axis":{"values":[0,20,40,60,80,100],"labelExpr":"datum.value == 0 ? '0' : datum.value + '%'","grid":false,"ticks":false,"domain":false,"labelFontSize":38,"labelColor":"#6b6b6b","labelPadding":25,"labelOffset":-4}},
  "color":{"field":"dex","type":"nominal","legend":null,
   "scale":{"domain":["s1","s2","s3","s4","s5","s6","s7"],"range":["#43e8ff","#f2b40e","#c95fae","#a9c9f5","#919191","#f4633c","#5a5a9f"]}}}},
{"data":{"values":[{"label":"Base DEXes %Fee Daily"}]},
 "mark":{"type":"text","align":"left","baseline":"alphabetic","fontSize":40,"fontWeight":"bold","color":"#1c1c1c"},
 "encoding":{"text":{"field":"label"},"x":{"datum":{"year":2024,"month":4,"date":11,"hours":12},"type":"temporal"},"y":{"datum":107.5,"type":"quantitative"}}},
{"data":{"values":[{"note":"title underline"}]},
 "mark":{"type":"rule","color":"#1c1c1c","strokeWidth":3},
 "encoding":{"x":{"datum":{"year":2024,"month":4,"date":11,"hours":12},"type":"temporal"},"x2":{"datum":{"year":2024,"month":9,"date":25},"type":"temporal"},"y":{"datum":107.1,"type":"quantitative"}}},
{"data":{"values":[{"label":"base_dexes_fees"}]},
 "mark":{"type":"text","align":"left","baseline":"alphabetic","fontSize":41.5,"color":"#1c1c1c"},
 "encoding":{"text":{"field":"label"},"x":{"datum":{"year":2024,"month":10,"date":7,"hours":7},"type":"temporal"},"y":{"datum":107.5,"type":"quantitative"}}},
{"data":{"values":[{"note":"avatar"}]},
 "mark":{"type":"rect","fill":"#fde8e2","cornerRadius":9},
 "encoding":{"x":{"datum":{"year":2024,"month":4,"date":14,"hours":12},"type":"temporal"},"x2":{"datum":{"year":2024,"month":4,"date":27,"hours":19}},"y":{"datum":-7.5,"type":"quantitative"},"y2":{"datum":-10.95}}},
{"data":{"values":[{"label":"@x_drome_analytics"}]},
 "mark":{"type":"text","align":"left","baseline":"middle","fontSize":32.4,"color":"#6b6b6b"},
 "encoding":{"text":{"field":"label"},"x":{"datum":{"year":2024,"month":5,"date":2,"hours":14},"type":"temporal"},"y":{"datum":-9.5,"type":"quantitative"}}},
{"data":{"values":[{"label":"•••"}]},
 "mark":{"type":"text","align":"center","baseline":"middle","fontSize":22,"fontWeight":"bold","color":"#222222"},
 "encoding":{"text":{"field":"label"},"x":{"datum":{"year":2025,"month":4,"date":4,"hours":17},"type":"temporal"},"y":{"datum":-9.3,"type":"quantitative"}}},
{"data":{"values":[{"note":"badge"}]},
 "mark":{"type":"rect","fill":"#e6f6ee","cornerRadius":12},
 "encoding":{"x":{"datum":{"year":2025,"month":4,"date":17,"hours":17},"type":"temporal"},"x2":{"datum":{"year":2025,"month":6,"date":8,"hours":2}},"y":{"datum":-7,"type":"quantitative"},"y2":{"datum":-11.4}}},
{"data":{"values":[{"label":"Now"}]},
 "mark":{"type":"text","align":"left","baseline":"middle","fontSize":31,"color":"#0f6b45"},
 "encoding":{"text":{"field":"label"},"x":{"datum":{"year":2025,"month":4,"date":22,"hours":2},"type":"temporal"},"y":{"datum":-9.3,"type":"quantitative"}}},
{"data":{"values":[{"note":"badge icon"}]},
 "mark":{"type":"point","filled":false,"size":1024,"strokeWidth":3,"color":"#0f6b45","opacity":1,"shape":"M0 -1 L0.3 -0.72 L0.71 -0.71 L0.72 -0.3 L1 0 L0.72 0.3 L0.71 0.71 L0.3 0.72 L0 1 L-0.3 0.72 L-0.71 0.71 L-0.72 0.3 L-1 0 L-0.72 -0.3 L-0.71 -0.71 L-0.3 -0.72 Z M-0.38 0 L-0.1 0.3 L0.42 -0.28"},
 "encoding":{"x":{"datum":{"year":2025,"month":5,"date":28},"type":"temporal"},"y":{"datum":-9.3,"type":"quantitative"}}},
{"data":{"values":[{"note":"watermark icon"}]},
 "mark":{"type":"point","filled":false,"shape":"diamond","size":500,"strokeWidth":2,"color":"#d9d9d9","opacity":1},
 "encoding":{"x":{"datum":{"year":2025,"month":4,"date":12,"hours":22},"type":"temporal"},"y":{"datum":-14.6,"type":"quantitative"}}},
{"data":{"values":[{"label":"@wagmiAlexander"}]},
 "mark":{"type":"text","align":"left","baseline":"middle","fontSize":24,"color":"#d4d4d4"},
 "encoding":{"text":{"field":"label"},"x":{"datum":{"year":2025,"month":4,"date":21},"type":"temporal"},"y":{"datum":-14.6,"type":"quantitative"}}}
]}
